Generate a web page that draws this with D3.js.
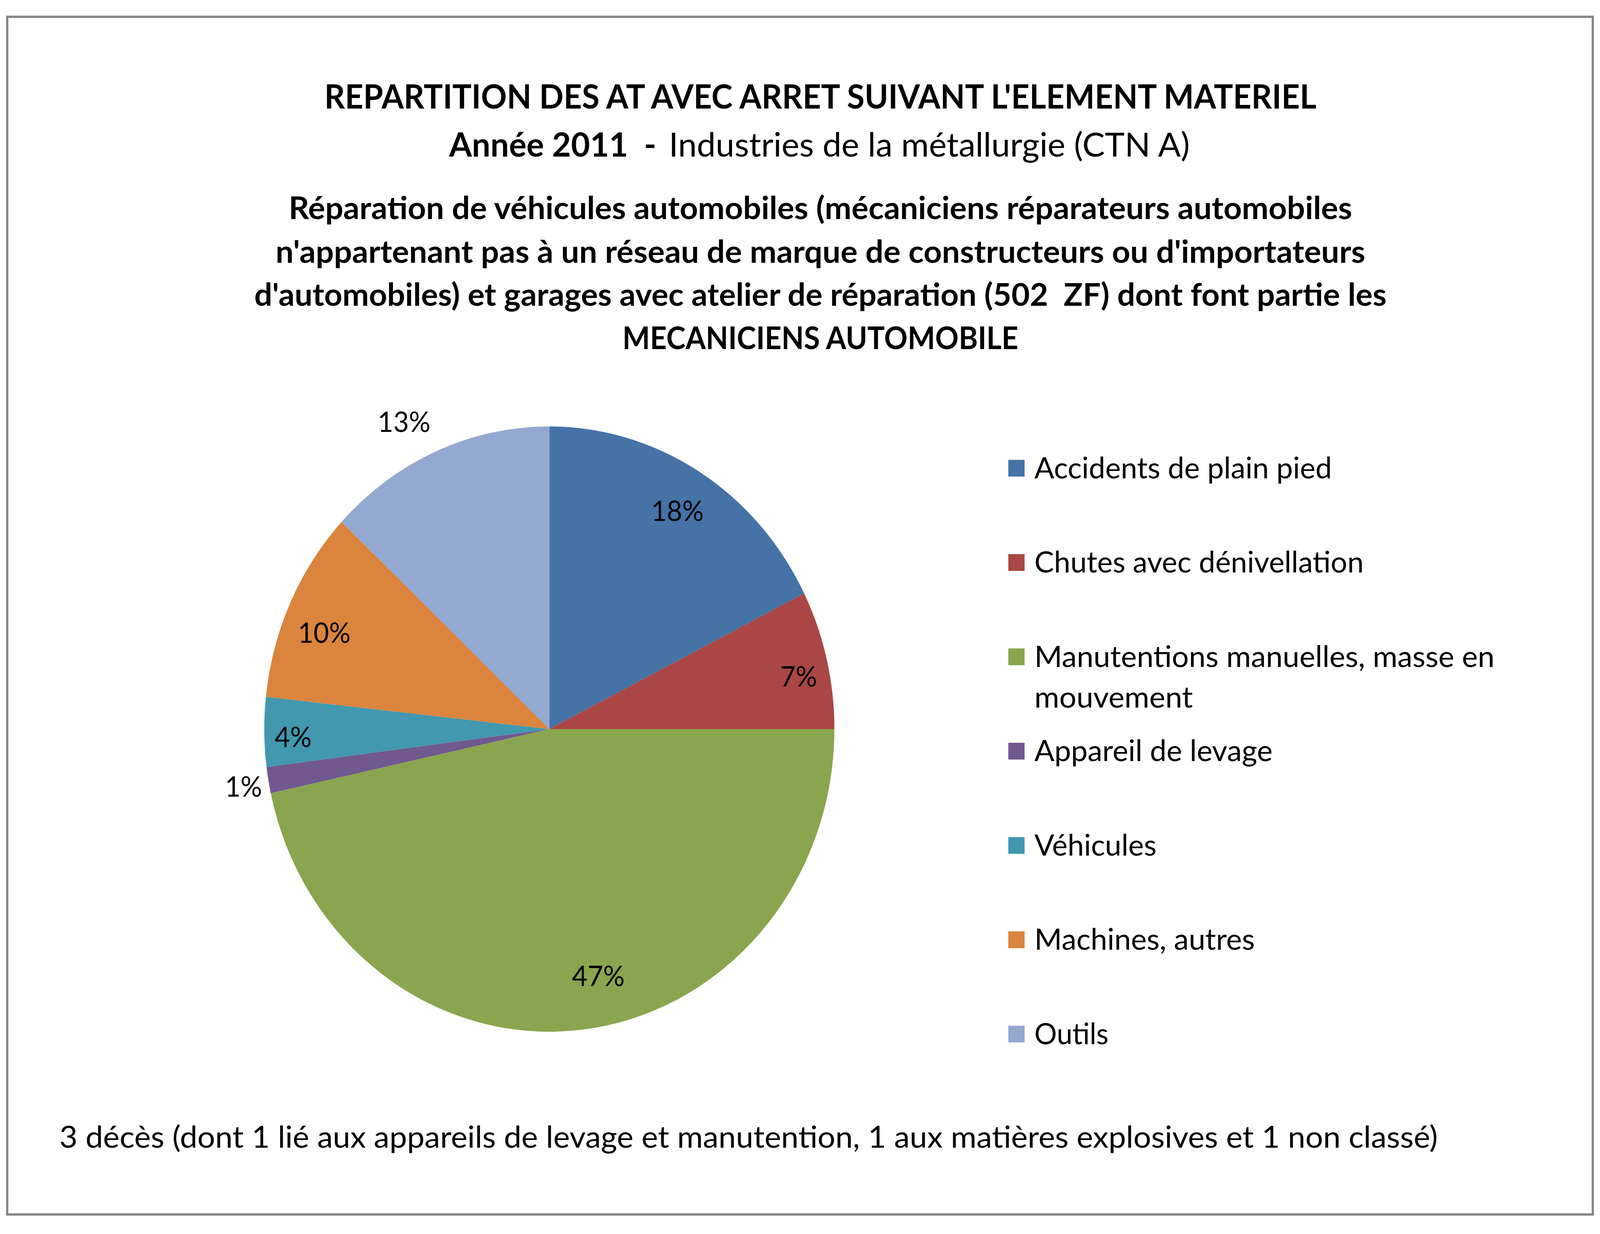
<!DOCTYPE html>
<html>
<head>
<meta charset="utf-8">
<script src="https://cdn.jsdelivr.net/npm/d3@7/dist/d3.min.js"></script>
<style>
  html, body { margin: 0; padding: 0; background: #ffffff; overflow: hidden; width: 100%; height: 100%; }
  svg { display: block; width: 100vw; height: 100vh; }
  text { font-family: Lato, "Open Sans", "DejaVu Sans", sans-serif; fill: #000; }
</style>
</head>
<body>
<svg id="chart" viewBox="0 0 4232 3160" preserveAspectRatio="none"></svg>
<script>
// ---- Data ----
const categories = [
  "Accidents de plain pied",
  "Chutes avec dénivellation",
  "Manutentions manuelles, masse en mouvement",
  "Appareil de levage",
  "Véhicules",
  "Machines, autres",
  "Outils"
];
const shares = [17.6, 7.4, 46.6, 1.4, 3.7, 10.3, 13.0];
const colors = ["#4572A7", "#AA4643", "#89A54E", "#71588F", "#4198AF", "#DB843D", "#93A9CF"];
const legendLines = [
  ["Accidents de plain pied"],
  ["Chutes avec dénivellation"],
  ["Manutentions manuelles, masse en", "mouvement"],
  ["Appareil de levage"],
  ["Véhicules"],
  ["Machines, autres"],
  ["Outils"]
];
const titleLine1 = "REPARTITION DES AT AVEC ARRET SUIVANT L'ELEMENT MATERIEL";
const titleLine2Bold = "Année 2011  -";
const titleLine2Normal = "Industries de la métallurgie (CTN A)";
const subtitleLines = [
  "Réparation de véhicules automobiles (mécaniciens réparateurs automobiles",
  "n'appartenant pas à un réseau de marque de constructeurs ou d'importateurs",
  "d'automobiles) et garages avec atelier de réparation (502  ZF) dont font partie les",
  "MECANICIENS AUTOMOBILE"
];
const footnote = "3 décès (dont 1 lié aux appareils de levage et manutention, 1 aux matières explosives et 1 non classé)";

// ---- Layout-only settings (text widths to mimic the original narrow font, label placement) ----
const labelRadius = [0.851, 0.892, 0.832, 1.089, 0.899, 0.852, 1.138];
const labelAngleOffset = [0.2, 1.9, -5.8, -0.2, -1.0, -2.6, -3.2];
const subtitleWidths = [2813, 2882, 2995, 1047];
const legendWidths = [[787], [871], [1217, 419], [630], [323], [583], [196]];

const svg = d3.select("#chart");
svg.append("rect").attr("x", 0).attr("y", 0).attr("width", 4232).attr("height", 3160).attr("fill", "#fff");
svg.append("rect")
  .attr("x", 19).attr("y", 43).attr("width", 4194).attr("height", 3067)
  .attr("fill", "#fff").attr("stroke", "#878787").attr("stroke-width", 6);

function fit(sel, w) {
  return sel.attr("textLength", w).attr("lengthAdjust", "spacingAndGlyphs");
}

// ---- Titles ----
const titleX = 2170;
fit(svg.append("text").attr("x", titleX).attr("y", 278)
  .attr("text-anchor", "middle").attr("font-weight", "bold").attr("font-size", 86)
  .text(titleLine1), 2624);
fit(svg.append("text").attr("x", 1188).attr("y", 401)
  .attr("font-weight", "bold").attr("font-size", 86)
  .style("white-space", "pre").text(titleLine2Bold), 548);
fit(svg.append("text").attr("x", 1769).attr("y", 401)
  .attr("font-size", 86).text(titleLine2Normal), 1378);

const subY = [561, 673, 783, 894];
subtitleLines.forEach((s, i) => {
  fit(svg.append("text").attr("x", titleX).attr("y", subY[i])
    .attr("text-anchor", "middle").attr("font-weight", "bold").attr("font-size", 80)
    .style("white-space", "pre").text(s), subtitleWidths[i]);
});

// ---- Pie ----
const cx = 1453, cy = 1867, r = 754, yStretch = 775 / 754;
const pie = d3.pie().value(d => d).sort(null);
const arcs = pie(shares);
const arc = d3.arc().innerRadius(0).outerRadius(r);

const g = svg.append("g").attr("transform", `translate(${cx},${cy}) scale(1,${yStretch})`);
g.selectAll("path").data(arcs).enter().append("path")
  .attr("d", arc)
  .attr("fill", (d, i) => colors[i]);

const total = d3.sum(shares);
arcs.forEach((d, i) => {
  const mid = (d.startAngle + d.endAngle) / 2 + labelAngleOffset[i] * Math.PI / 180;
  const rr = r * labelRadius[i];
  const x = cx + Math.sin(mid) * rr;
  const y = cy - Math.cos(mid) * rr * yStretch;
  svg.append("text").attr("x", x).attr("y", y)
    .attr("text-anchor", "middle").attr("dominant-baseline", "central")
    .attr("font-size", 71)
    .text(Math.round(d.value / total * 100) + "%");
});

// ---- Legend ----
const legX = 2667, legY0 = 1199, legStep = 241.5, sw = 43, legTextX = 2736;
const legend = svg.append("g");
legendLines.forEach((lines, i) => {
  const yc = legY0 + i * legStep;
  legend.append("rect").attr("x", legX).attr("y", yc - sw / 2)
    .attr("width", sw).attr("height", sw).attr("fill", colors[i]);
  lines.forEach((ln, k) => {
    fit(legend.append("text").attr("x", legTextX).attr("y", yc + 26 + k * 104)
      .attr("font-size", 76).text(ln), legendWidths[i][k]);
  });
});

// ---- Footnote ----
fit(svg.append("text").attr("x", 157).attr("y", 2939).attr("font-size", 77)
  .text(footnote), 3646);
</script>
</body>
</html>
